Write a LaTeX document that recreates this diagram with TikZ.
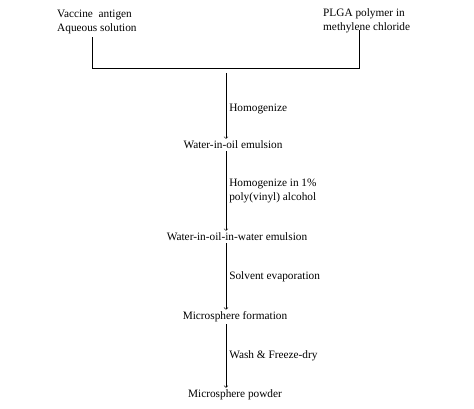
\documentclass[tikz,border=0pt]{standalone}
\usepackage{fontspec}
\setmainfont{Liberation Serif}
\usetikzlibrary{positioning}

\begin{document}
\begin{tikzpicture}[x=1pt, y=-1pt,
  every node/.style={font=\fontsize{11.3}{14}\selectfont},
  stepnode/.style={inner sep=2pt},
  lbl/.style={anchor=west, align=left, inner sep=0pt, xshift=3pt},
  flow/.style={->, semithick}]
\useasboundingbox (0,0) rectangle (474,409);
% starting materials
\node [anchor=west, align=left, inner sep=0pt] (antigen) at (57,22) {Vaccine\ \ antigen\\Aqueous solution};
\node [anchor=west, align=left, inner sep=0pt] (plga) at (323,21) {PLGA polymer in\\methylene chloride};
% joining bracket
\coordinate (jl) at (92,68);
\coordinate (jr) at (359,68);
\coordinate (top) at (226,73);
\draw [semithick] (antigen.south -| jl) ++(0,3) -- (jl) -- (jr) -- ([yshift=3pt]plga.south -| jr);
% process steps
\node [stepnode] (wo) at (233,145) {Water-in-oil emulsion};
\node [stepnode] (wow) at (237,237) {Water-in-oil-in-water emulsion};
\node [stepnode] (form) at (235,317) {Microsphere formation};
\node [stepnode] (powder) at (235,395) {Microsphere powder};
% arrows
\draw [flow] (top) -- (wo.north -| top) node [lbl, pos=.55] {Homogenize};
\draw [flow] (wo.south -| top) -- (wow.north -| top) node [lbl, midway] {Homogenize in 1\%\\poly(vinyl) alcohol};
\draw [flow] (wow.south -| top) -- (form.north -| top) node [lbl, pos=.5] {Solvent evaporation};
\draw [flow] (form.south -| top) -- (powder.north -| top) node [lbl, midway] {Wash \& Freeze-dry};
\end{tikzpicture}
\end{document}
